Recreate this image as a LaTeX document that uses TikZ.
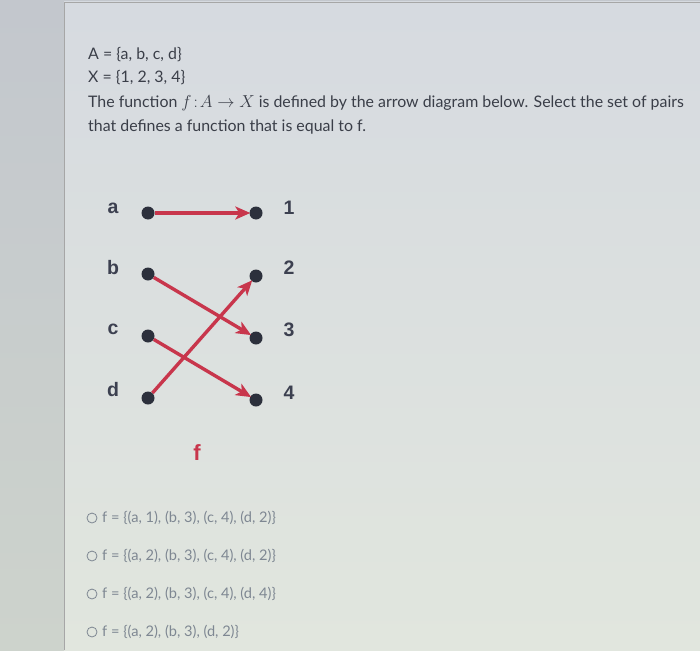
\documentclass[tikz,border=0pt]{standalone}
\usepackage{fontspec}
\setmainfont{Lato}
\newfontfamily\labfont{Liberation Sans}
\usetikzlibrary{arrows.meta}
\definecolor{outerbg}{HTML}{C3C7CD}
\definecolor{outerbot}{HTML}{CDD3CC}
\definecolor{paneltop}{HTML}{D6DAE0}
\definecolor{panelbot}{HTML}{E1E6DE}
\definecolor{txt}{HTML}{3A3E48}
\definecolor{opt}{HTML}{7E8792}
\definecolor{arrred}{HTML}{C8364C}
\definecolor{dotc}{HTML}{2C303C}
\definecolor{lab}{HTML}{3C4050}
\tikzset{
  qtext/.style={anchor=base west, inner sep=0pt, text=txt, font=\fontsize{15.9}{19}\selectfont},
  dotn/.style={circle, fill=dotc, minimum size=13pt, inner sep=0pt},
  labn/.style={text=lab, font=\labfont\bfseries\fontsize{19.5}{21}\selectfont, inner sep=0pt},
  arr/.style={draw=arrred, line width=3.4pt, -{Stealth[length=15pt,width=13pt,inset=4pt]}, shorten >=-1pt},
  optc/.style={circle, draw=opt, line width=0.8pt, minimum size=10pt, inner sep=0pt},
  optt/.style={anchor=west, inner sep=0pt, text=opt, font=\fontsize{14.6}{16}\selectfont},
}
\begin{document}
\begin{tikzpicture}[x=1pt,y=-1pt]
\useasboundingbox (0,0) rectangle (700,650);
\shade[top color=outerbg, bottom color=outerbot] (0,0) rectangle (700,650);
\shade[top color=paneltop, bottom color=panelbot] (64,2) rectangle (700,650);
\draw[color=gray!70, line width=0.8pt] (64,650) -- (64,2) -- (700,2);
% question text
\node[qtext] (l1) at (88,60) {A = \{a, b, c, d\}};
\node[qtext] (l2) at (88,83) {X = \{1, 2, 3, 4\}};
\node[qtext] (l3) at (88,107) {The function $f\!:\!A\rightarrow X$ is defined by the arrow diagram below. Select the set of pairs};
\node[qtext] (l4) at (88,131) {that defines a function that is equal to f.};
% left labels
\node[labn] (la) at (113,208) {a};
\node[labn] (lb) at (113,268) {b};
\node[labn] (lc) at (113,329) {c};
\node[labn] (ld) at (113,390) {d};
\node[labn] (l1n) at (289,208) {1};
\node[labn] (l2n) at (289,268) {2};
\node[labn] (l3n) at (289,330) {3};
\node[labn] (l4n) at (289,393) {4};
% dots
\node[dotn] (da) at (148,213) {};
\node[dotn] (db) at (148,274) {};
\node[dotn] (dc) at (148,336) {};
\node[dotn] (dd) at (148,398) {};
\node[dotn] (d1) at (256,213) {};
\node[dotn] (d2) at (256,276) {};
\node[dotn] (d3) at (256,338) {};
\node[dotn] (d4) at (256,400) {};
% arrows
\draw[arr] (da) -- (d1);
\draw[arr] (db) -- (d3);
\draw[arr] (dc) -- (d4);
\draw[arr] (dd) -- (d2);
\node[text=arrred, font=\labfont\bfseries\fontsize{22}{24}\selectfont, inner sep=0pt] (fl) at (197,453) {f};
% options
\node[optc] (o1) at (92,518) {};
\node[optt] (t1) at (102,518) {f = \{(a, 1), (b, 3), (c, 4), (d, 2)\}};
\node[optc] (o2) at (92,556) {};
\node[optt] (t2) at (102,556) {f = \{(a, 2), (b, 3), (c, 4), (d, 2)\}};
\node[optc] (o3) at (92,594) {};
\node[optt] (t3) at (102,594) {f = \{(a, 2), (b, 3), (c, 4), (d, 4)\}};
\node[optc] (o4) at (92,632) {};
\node[optt] (t4) at (102,632) {f = \{(a, 2), (b, 3), (d, 2)\}};
\end{tikzpicture}
\end{document}
